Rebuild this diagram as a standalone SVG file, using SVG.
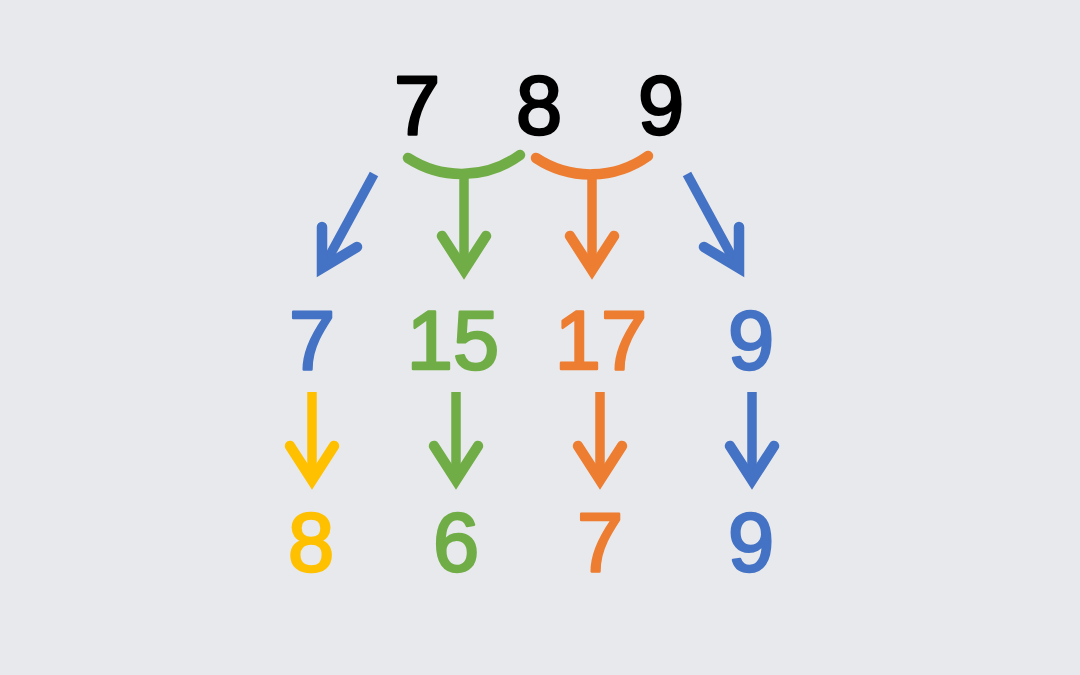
<svg xmlns="http://www.w3.org/2000/svg" width="1080" height="675" viewBox="0 0 1080 675">
<style>
text{font-family:"Liberation Sans",Arial,sans-serif;font-size:83px;text-anchor:middle;stroke-width:2.6;stroke-linejoin:round}
.k{fill:#000;stroke:#000}.b{fill:#4472C4;stroke:#4472C4}.g{fill:#70AD47;stroke:#70AD47}.o{fill:#ED7D31;stroke:#ED7D31}.y{fill:#FFC000;stroke:#FFC000}
.c{fill:none;stroke-width:10.5;stroke-linecap:round;stroke-linejoin:miter;stroke-miterlimit:6}
.s{fill:none;stroke-width:9.5;stroke-linecap:butt}
.cb{stroke:#4472C4}.cg{stroke:#70AD47}.co{stroke:#ED7D31}.cy{stroke:#FFC000}
</style>
<rect width="1080" height="675" fill="#E8E9EC"/>
<g id="top-7"><text class="k" x="417" y="134">7</text></g>
<g id="top-8"><text class="k" x="539" y="134">8</text></g>
<g id="top-9"><text class="k" x="661" y="134">9</text></g>
<g id="mid-7"><text class="b" x="312" y="369">7</text></g>
<g id="mid-15"><text class="g" x="453" y="369">15</text></g>
<g id="mid-17"><text class="o" x="601" y="369">17</text></g>
<g id="mid-9"><text class="b" x="751" y="369">9</text></g>
<g id="bot-8"><text class="y" x="311" y="571">8</text></g>
<g id="bot-6"><text class="g" x="456" y="571">6</text></g>
<g id="bot-7"><text class="o" x="600" y="571">7</text></g>
<g id="bot-9"><text class="b" x="751" y="571">9</text></g>
<g id="connectors">
<path class="s cb" d="M374,174 L324,266"/>
<path class="c cb" d="M322,227 L322,268 L357,247"/>
<path class="s cb" d="M687,174 L737,266"/>
<path class="c cb" d="M739,227 L739,268 L704,247"/>
<path class="c cg" d="M408,158 A99,99 0 0 0 520,155"/>
<path class="s cg" d="M464,175 L464,268"/>
<path class="c cg" d="M442,236 L464,270 L486,236"/>
<path class="c co" d="M536,158 A99,99 0 0 0 648,156"/>
<path class="s co" d="M592,175 L592,268"/>
<path class="c co" d="M570,236 L592,270 L614,236"/>
<path class="s cy" d="M312,392 L312,478"/>
<path class="c cy" d="M290,446 L312,480 L334,446"/>
<path class="s cg" d="M456,392 L456,478"/>
<path class="c cg" d="M434,446 L456,480 L478,446"/>
<path class="s co" d="M600,392 L600,478"/>
<path class="c co" d="M578,446 L600,480 L622,446"/>
<path class="s cb" d="M752,392 L752,478"/>
<path class="c cb" d="M730,446 L752,480 L774,446"/>
</g>
</svg>
